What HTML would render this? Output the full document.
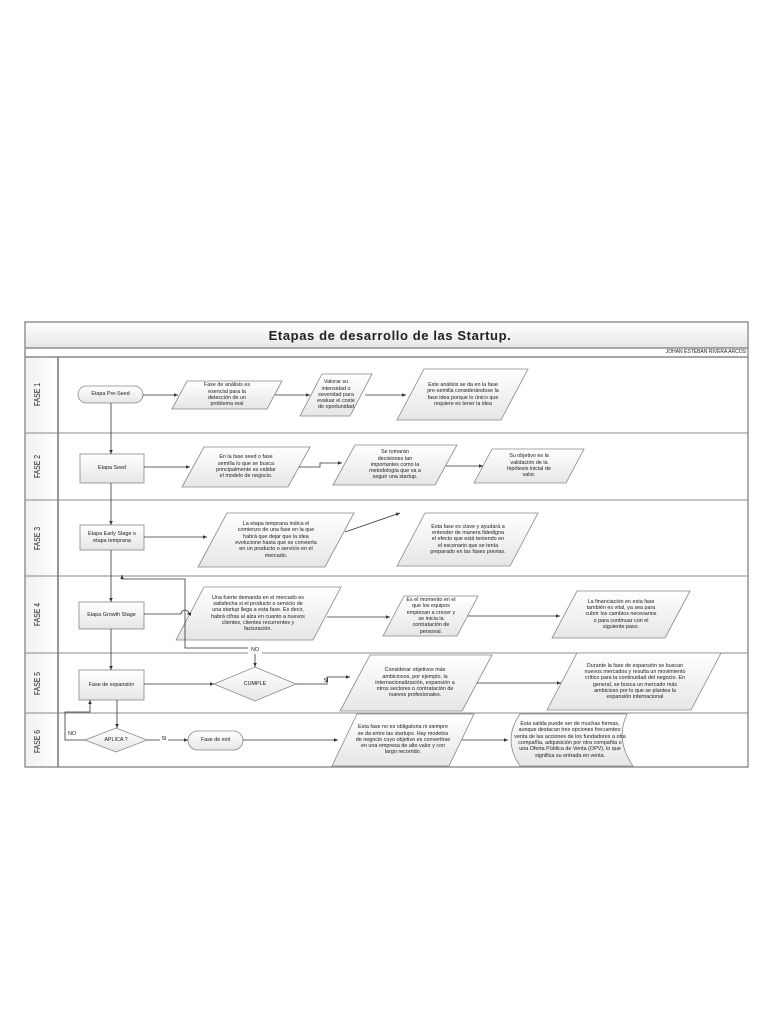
<!DOCTYPE html>
<html><head><meta charset="utf-8"><style>
body{margin:0;width:768px;height:1024px;background:#fff;position:relative;overflow:hidden;font-family:"Liberation Sans",sans-serif}
svg{position:absolute;left:0;top:0}
.t{position:absolute;display:flex;align-items:center;justify-content:center;text-align:center;font-size:5.4px;line-height:6.3px;color:#222}
.l{position:absolute;font-size:8px;color:#222;transform:rotate(-90deg) scaleX(0.85);white-space:nowrap}
</style></head><body>
<svg width="768" height="1024">
<defs>
<linearGradient id="g" x1="0" y1="0" x2="0" y2="1"><stop offset="0" stop-color="#fff"/><stop offset="1" stop-color="#e6e6e6"/></linearGradient>
<linearGradient id="h" x1="0" y1="0" x2="1" y2="0"><stop offset="0" stop-color="#f0f0f0"/><stop offset="1" stop-color="#fff"/></linearGradient>
<marker id="a" markerWidth="6" markerHeight="6" refX="5" refY="3" orient="auto"><path d="M0,0.8 L5,3 L0,5.2z" fill="#333"/></marker>
</defs>
<rect x="25" y="322" width="723" height="445" fill="#fff" stroke="#777" stroke-width="1.2"/>
<rect x="26" y="323" width="721" height="25" fill="url(#g)"/>
<line x1="25" y1="348" x2="748" y2="348" stroke="#777" stroke-width="1.2"/>
<line x1="25" y1="357" x2="748" y2="357" stroke="#888" stroke-width="1.5"/>
<rect x="26" y="358" width="32" height="408" fill="url(#h)"/>
<line x1="58" y1="357" x2="58" y2="767" stroke="#777" stroke-width="1.5"/>
<g stroke="#888" stroke-width="1">
<line x1="25" y1="433" x2="748" y2="433"/><line x1="25" y1="500" x2="748" y2="500"/>
<line x1="25" y1="576" x2="748" y2="576"/><line x1="25" y1="653" x2="748" y2="653"/>
<line x1="25" y1="713" x2="748" y2="713"/>
</g>
<g fill="url(#g)" stroke="#888" stroke-width="0.8">
<rect x="78" y="386" width="65" height="17" rx="8.5"/>
<polygon points="187,381 282,381 267,409 172,409"/>
<polygon points="322,374 372,374 350,416 300,416"/>
<polygon points="424,369 528,369 501,420 397,420"/>
<rect x="80" y="454" width="64" height="29"/>
<polygon points="204,447 310,447 288,487 182,487"/>
<polygon points="355,445 457,445 435,485 333,485"/>
<polygon points="492,449 584,449 566,483 474,483"/>
<rect x="80" y="525" width="64" height="25"/>
<polygon points="227,513 354,513 325,567 198,567"/>
<polygon points="425,513 538,513 510,566 397,566"/>
<rect x="79" y="602" width="65" height="27"/>
<polygon points="204,587 341,587 313,640 176,640"/>
<polygon points="404,596 478,596 457,636 383,636"/>
<polygon points="577,591 690,591 665,638 552,638"/>
<rect x="79" y="670" width="65" height="30"/>
<polygon points="255,667 296,684 255,701 214,684"/>
<polygon points="370,655 492,655 462,711 340,711"/>
<polygon points="577,653 721,653 691,710 547,710"/>
<polygon points="116,728 147,740 116,752 85,740"/>
<rect x="188" y="731" width="55" height="19" rx="9.5"/>
<polygon points="357,714 474,714 449,766 332,766"/>
<path d="M520,714 L627,714 Q615,740 633,766 L520,766 Q502,740 520,714z"/>
</g>
<g fill="none" stroke="#333" stroke-width="0.8" marker-end="url(#a)">
<line x1="111" y1="403" x2="111" y2="454"/>
<line x1="111" y1="483" x2="111" y2="525"/>
<line x1="111" y1="550" x2="111" y2="602"/>
<line x1="111" y1="629" x2="111" y2="670"/>
<line x1="143" y1="395" x2="178" y2="395"/>
<line x1="275" y1="395" x2="310" y2="395"/>
<line x1="365" y1="395" x2="406" y2="395"/>
<line x1="144" y1="467" x2="190" y2="467"/>
<polyline points="299,467 320,467 320,463 342,463"/>
<line x1="446" y1="466" x2="483" y2="466"/>
<line x1="144" y1="537" x2="207" y2="537"/>
<line x1="345" y1="532" x2="400" y2="513"/>
<path d="M144,614 L181,614 A4,4 0 0 1 189,614 L187,614"/>
<line x1="327" y1="617" x2="390" y2="617"/>
<line x1="468" y1="616" x2="560" y2="616"/>
<polyline points="255,648 185,648 185,579 122,579 122,575"/>
<line x1="255" y1="648" x2="255" y2="667"/>
<line x1="144" y1="684" x2="214" y2="684"/>
<polyline points="296,684 327,684 327,677 350,677"/>
<line x1="477" y1="683" x2="561" y2="683"/>
<line x1="117" y1="700" x2="117" y2="728"/>
<polyline points="85,740 65,740 65,712 90,712 90,700"/>
<line x1="147" y1="740" x2="188" y2="740"/>
<line x1="243" y1="740" x2="338" y2="740"/>
<line x1="462" y1="740" x2="508" y2="740"/>
</g>
</svg>
<div class="t" style="left:190px;top:324px;width:400px;height:24px;font-size:13px;font-weight:bold;letter-spacing:0.6px">Etapas de desarrollo de las Startup.</div>
<div class="t" style="left:600px;top:348px;width:146px;height:9px;justify-content:flex-end;font-size:5px">JOHAN ESTEBAN RIVERA ARCOS</div>
<div class="l" style="left:24px;top:390px">FASE 1</div>
<div class="l" style="left:24px;top:462px">FASE 2</div>
<div class="l" style="left:24px;top:534px">FASE 3</div>
<div class="l" style="left:24px;top:610px">FASE 4</div>
<div class="l" style="left:24px;top:679px">FASE 5</div>
<div class="l" style="left:24px;top:737px">FASE 6</div>
<div class="t" style="left:78px;top:386px;width:65px;height:17px">Etapa Pre-Seed</div>
<div class="t" style="left:196px;top:381px;width:62px;height:28px">Fase de análisis es esencial para la detección de un problema real</div>
<div class="t" style="left:314px;top:374px;width:44px;height:42px">Valorar su intensidad o severidad para evaluar el coste de oportunidad</div>
<div class="t" style="left:425px;top:369px;width:76px;height:51px">Este análisis se da en la fase pre-semilla considerándose la fase idea porque lo único que requiere es tener la idea</div>
<div class="t" style="left:80px;top:454px;width:64px;height:29px">Etapa Seed</div>
<div class="t" style="left:214px;top:447px;width:64px;height:40px">En la fase seed o fase semilla lo que se busca principalmente es validar el modelo de negocio.</div>
<div class="t" style="left:368px;top:445px;width:54px;height:40px">Se tomarán decisiones tan importantes como la metodología que va a seguir una startup.</div>
<div class="t" style="left:500px;top:449px;width:58px;height:34px">Su objetivo es la validación de la hipótesis inicial de valor.</div>
<div class="t" style="left:82px;top:525px;width:60px;height:25px">Etapa Early Stage o etapa temprana</div>
<div class="t" style="left:232px;top:513px;width:88px;height:54px">La etapa temprana indica el comienzo de una fase en la que habrá que dejar que la idea evolucione hasta que se convierta en un producto o servicio en el mercado.</div>
<div class="t" style="left:430px;top:513px;width:76px;height:53px">Esta fase es clave y ayudará a entender de manera fidedigna el efecto que está teniendo en el escenario que se tenía preparado en las fases previas.</div>
<div class="t" style="left:79px;top:602px;width:65px;height:27px">Etapa Growth Stage</div>
<div class="t" style="left:210px;top:587px;width:96px;height:53px">Una fuerte demanda en el mercado es satisfecha si el producto o servicio de una startup llega a esta fase. Es decir, habrá cifras al alza en cuanto a nuevos clientes, clientes recurrentes y facturación.</div>
<div class="t" style="left:404px;top:596px;width:54px;height:40px">Es el momento en el que los equipos empiezan a crecer y se inicia la contratación de personal.</div>
<div class="t" style="left:584px;top:591px;width:74px;height:47px">La financiación en esta fase también es vital, ya sea para cubrir los cambios necesarios o para continuar con el siguiente paso.</div>
<div class="t" style="left:79px;top:670px;width:65px;height:30px">Fase de expansión</div>
<div class="t" style="left:214px;top:667px;width:82px;height:34px">CUMPLE</div>
<div class="t" style="left:370px;top:655px;width:90px;height:56px">Considerar objetivos más ambiciosos, por ejemplo, la internacionalización, expansión a otros sectores o contratación de nuevos profesionales.</div>
<div class="t" style="left:582px;top:653px;width:106px;height:57px">Durante la fase de expansión se buscan nuevos mercados y resulta un movimiento crítico para la continuidad del negocio. En general, se busca un mercado más ambicioso por lo que se plantea la expansión internacional</div>
<div class="t" style="left:85px;top:728px;width:62px;height:24px">APLICA ?</div>
<div class="t" style="left:188px;top:731px;width:55px;height:19px">Fase de exit</div>
<div class="t" style="left:355px;top:714px;width:96px;height:52px">Esta fase no es obligatoria ni siempre se da entre las startups. Hay modelos de negocio cuyo objetivo es convertirse en una empresa de alto valor y con largo recorrido.</div>
<div class="t" style="left:514px;top:714px;width:112px;height:52px">Esta salida puede ser de muchas formas, aunque destacan tres opciones frecuentes: venta de las acciones de los fundadores a otra compañía, adquisición por otra compañía o una Oferta Pública de Venta (OPV), lo que significa su entrada en venta.</div>
<div class="t" style="left:248px;top:647px;width:14px;height:7px;background:#fff">NO</div>
<div class="t" style="left:322px;top:678px;width:8px;height:7px">SI</div>
<div class="t" style="left:66px;top:731px;width:12px;height:7px">NO</div>
<div class="t" style="left:160px;top:736px;width:8px;height:7px;background:#fff">SI</div>
</body></html>
